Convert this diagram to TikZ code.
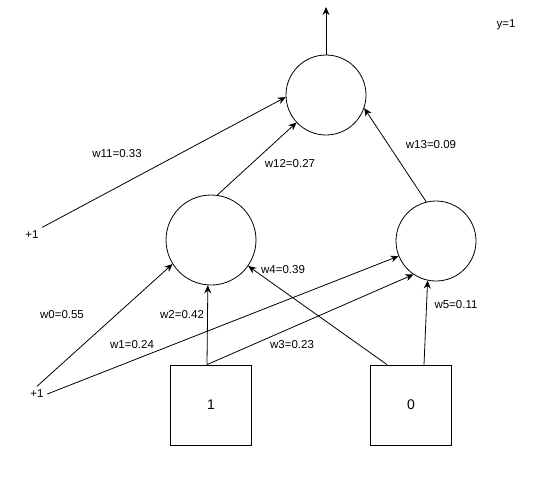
\documentclass[tikz,border=0pt]{standalone}
\usepackage{fontspec}
\setmainfont{Liberation Sans}
\usetikzlibrary{arrows.meta}

\begin{document}
\begin{tikzpicture}[x=1pt, y=-1pt, line width=0.8pt, black, font=\fontsize{11.5}{13}\selectfont]
  \tikzset{neuron/.style={draw, circle, inner sep=0pt},
           unit/.style={draw, minimum width=81pt, minimum height=80pt, font=\fontsize{14}{16}\selectfont},
           wire/.style={-{Stealth[length=8pt, width=7pt]}}}
  \useasboundingbox (0,0) rectangle (548,480);
  % neurons
  \node[neuron, minimum size=80pt] (out) at (326,95) {};
  \node[neuron, minimum size=90pt] (h1) at (211,240) {};
  \node[neuron, minimum size=80pt] (h2) at (436,241) {};
  % inputs
  \node[unit] (x1) at (211,405) {1};
  \node[unit] (x2) at (411,405) {0};
  \node (bias2) at (32,235) {+1};
  \node (bias1) at (37,394) {+1};
  \node (y) at (506,25) {y=1};
  \coordinate (top) at (326,7);
  % connectors
  \draw[wire] (out.north) -- (top);
  \draw[wire] (bias2.north east) -- (out.183);
  \draw[wire] (h1.82) -- (out.223);
  \draw[wire] (h2.104) -- (out.341);
  \draw[wire] (bias1.north) -- (h1.212);
  \draw[wire] (bias1.east) -- (h2.202);
  \draw[wire] ([xshift=-4pt]x1.north) -- (h1.266);
  \draw[wire] ([xshift=-4pt]x1.north) -- (h2.236);
  \draw[wire] ([xshift=-24pt]x2.north) -- (h1.325);
  \draw[wire] ([xshift=13pt]x2.north) -- (h2.258);
  % weights
  \node (l11) at (117,154) {w11=0.33};
  \node (l12) at (290,164) {w12=0.27};
  \node (l13) at (431,145) {w13=0.09};
  \node (l0) at (62,315) {w0=0.55};
  \node (l2) at (182,315) {w2=0.42};
  \node (l1) at (132,345) {w1=0.24};
  \node (l4) at (283,270) {w4=0.39};
  \node (l5) at (456,305) {w5=0.11};
  \node (l3) at (292,345) {w3=0.23};
\end{tikzpicture}
\end{document}
